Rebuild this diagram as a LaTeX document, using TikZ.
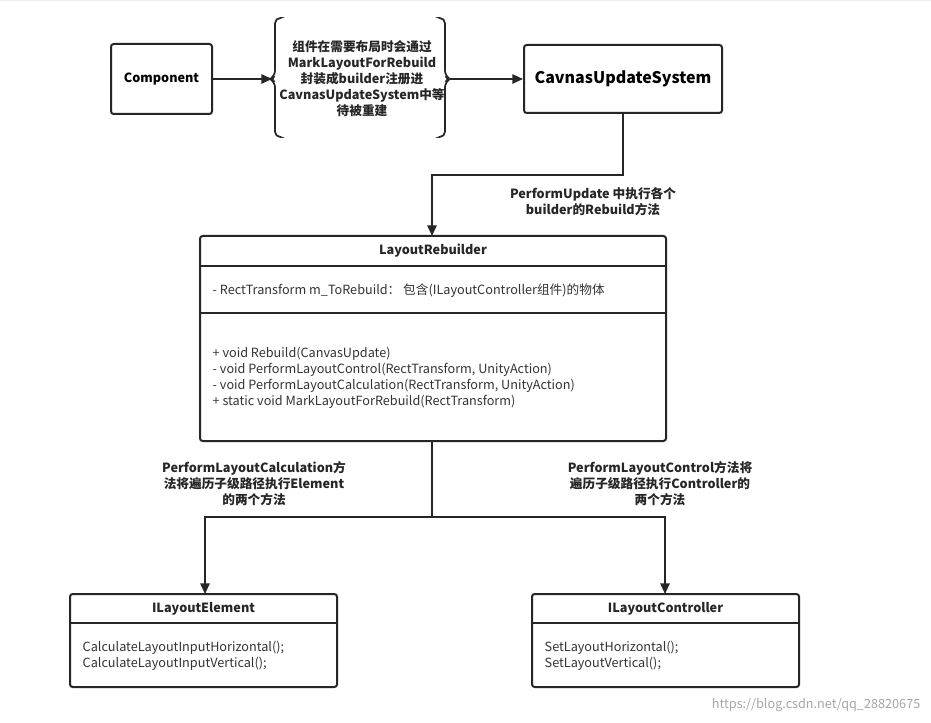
\documentclass[tikz,border=0pt]{standalone}
\usepackage{fontspec}
\setmainfont{Noto Sans CJK SC}
\usetikzlibrary{arrows.meta,decorations.pathreplacing}
\tikzset{
  box/.style={draw=black!85,line width=1.5pt,rounded corners=2pt},
  conn/.style={line width=1.3pt,draw=black!85},
  arr/.style={conn,-{Triangle[length=8pt,width=7pt]}},
  lbl/.style={font=\fontsize{9.5}{12}\selectfont\bfseries,align=center,text=black!85},
  mem/.style={font=\fontsize{9.5}{12}\selectfont,align=left,anchor=west,text=black!80},
}
\begin{document}
\begin{tikzpicture}[x=0.75pt,y=-0.75pt]
\useasboundingbox (0,0) rectangle (931,723);
\fill[white] (0,0) rectangle (931,723);
\draw[black!7,line width=0.4pt,step=15pt] (0,-723) grid (931,0);
% Component
\node[box,minimum width=75.75pt,minimum height=52.5pt,font=\fontsize{9.5}{12}\selectfont\bfseries] (comp) at (161.5,79) {Component};
% brace text
\node[lbl,text width=130pt] (note) at (362,79) {组件在需要布局时会通过\\MarkLayoutForRebuild\\封装成builder注册进\\CavnasUpdateSystem中等\\待被重建};
\coordinate (bl) at (272,79);
\coordinate (br) at (450,79);
\draw[line width=1.3pt,black!85,rounded corners=4pt] (280,18) -- (275,18) -- (275,76) -- (270,79) -- (275,82) -- (275,137) -- (280,137);
\draw[line width=1.3pt,black!85,rounded corners=4pt] (440,18) -- (445,18) -- (445,76) -- (450,79) -- (445,82) -- (445,137) -- (440,137);
% Cavnas
\node[box,minimum width=148.5pt,minimum height=51pt,font=\fontsize{12}{14}\selectfont\bfseries] (cus) at (623,79) {CavnasUpdateSystem};
\draw[arr] (comp.east) -- (bl);
\draw[arr] (br) -- (cus.west);
% LayoutRebuilder
\node[box,minimum width=349.5pt,minimum height=153.75pt] (lr) at (433,338.5) {};
\node[lbl] (lrt) at (433,251) {LayoutRebuilder};
\draw[line width=1.3pt,black!85] (200,266) -- (666,266);
\draw[line width=1.3pt,black!85] (200,313) -- (666,313);
\node[mem] (attr) at (208,291) {- RectTransform m\_ToRebuild： 包含(ILayoutController组件)的物体};
\node[mem] (ops) at (208,378) {+ void Rebuild(CanvasUpdate)\\- void PerformLayoutControl(RectTransform, UnityAction)\\- void PerformLayoutCalculation(RectTransform, UnityAction)\\+ static void MarkLayoutForRebuild(RectTransform)};
\draw[arr] (cus.south) |- (432,175) -- (432,236);
\node[lbl] (l1) at (593,202) {PerformUpdate 中执行各个\\builder的Rebuild方法};
% bottom boxes
\node[box,minimum width=200.25pt,minimum height=69.75pt] (ile) at (203.5,640.5) {};
\node[lbl] at (203.5,609) {ILayoutElement};
\draw[line width=1.3pt,black!85] (70,623) -- (337,623);
\node[mem] (ilet) at (78,656) {CalculateLayoutInputHorizontal();\\CalculateLayoutInputVertical();};
\node[box,minimum width=200.25pt,minimum height=69.75pt] (ilc) at (665.5,640.5) {};
\node[lbl] at (665.5,609) {ILayoutController};
\draw[line width=1.3pt,black!85] (532,623) -- (799,623);
\node[mem] (ilct) at (540,656) {SetLayoutHorizontal();\\SetLayoutVertical();};
\coordinate (j) at (432,517);
\draw[conn] (lr.south -| j) -- (j);
\draw[arr] (j) -| (205,594);
\draw[arr] (j) -| (665,594);
\node[lbl] (l2) at (254,484) {PerformLayoutCalculation方\\法将遍历子级路径执行Element\\的两个方法};
\node[lbl] (l3) at (660,484) {PerformLayoutControl方法将\\遍历子级路径执行Controller的\\两个方法};
\node[font=\fontsize{9.5}{12}\selectfont,text=black!35,anchor=east] (wm) at (925,705) {https://blog.csdn.net/qq\_28820675};
\end{tikzpicture}
\end{document}
